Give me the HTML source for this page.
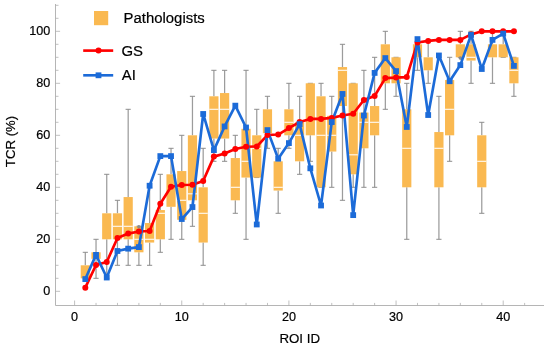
<!DOCTYPE html>
<html lang="en"><head><meta charset="utf-8"><title>TCR chart</title>
<style>html,body{margin:0;padding:0;background:#fff}svg{display:block}</style></head>
<body>
<svg width="550" height="350" viewBox="0 0 550 350">
<rect width="550" height="350" fill="#fff"/>
<g stroke="#9c9c9c" stroke-width="1.25" fill="none">
<path d="M85.31 265.30V252.30"/>
<path d="M96.03 252.30V239.30"/>
<path d="M96.03 258.80V278.30"/>
<path d="M106.74 213.30V174.30"/>
<path d="M106.74 239.30V278.30"/>
<path d="M117.46 213.30V200.30"/>
<path d="M117.46 239.30V265.30"/>
<path d="M128.18 197.05V109.30"/>
<path d="M128.18 239.30V265.30"/>
<path d="M138.89 252.30V265.30"/>
<path d="M149.60 223.05V187.30"/>
<path d="M149.60 242.55V265.30"/>
<path d="M160.32 210.05V174.30"/>
<path d="M160.32 239.30V252.30"/>
<path d="M171.03 174.30V148.30"/>
<path d="M171.03 206.80V239.30"/>
<path d="M181.75 171.05V135.30"/>
<path d="M181.75 219.80V239.30"/>
<path d="M192.46 135.30V96.30"/>
<path d="M192.46 200.30V226.30"/>
<path d="M203.18 187.30V148.30"/>
<path d="M203.18 242.55V265.30"/>
<path d="M213.89 96.30V70.30"/>
<path d="M213.89 138.55V161.30"/>
<path d="M224.61 93.05V70.30"/>
<path d="M224.61 138.55V161.30"/>
<path d="M235.32 158.05V135.30"/>
<path d="M235.32 200.30V213.30"/>
<path d="M246.04 128.80V70.30"/>
<path d="M246.04 177.55V239.30"/>
<path d="M256.75 135.30V109.30"/>
<path d="M267.47 109.30V96.30"/>
<path d="M267.47 133.22V148.30"/>
<path d="M278.19 161.30V148.30"/>
<path d="M278.19 190.55V213.30"/>
<path d="M288.90 109.30V83.30"/>
<path d="M288.90 135.30V148.30"/>
<path d="M299.62 122.30V96.30"/>
<path d="M299.62 161.30V174.30"/>
<path d="M310.33 135.30V161.30"/>
<path d="M321.04 96.30V83.30"/>
<path d="M331.76 115.80V96.30"/>
<path d="M331.76 151.55V187.30"/>
<path d="M342.48 67.05V44.30"/>
<path d="M342.48 106.05V200.30"/>
<path d="M353.19 174.30V187.30"/>
<path d="M363.90 112.55V70.30"/>
<path d="M363.90 148.30V187.30"/>
<path d="M374.62 106.05V57.30"/>
<path d="M374.62 135.30V187.30"/>
<path d="M385.34 44.30V31.30"/>
<path d="M385.34 83.30V109.30"/>
<path d="M396.05 83.30V96.30"/>
<path d="M406.76 109.30V83.30"/>
<path d="M406.76 187.30V239.30"/>
<path d="M417.48 57.30V70.30"/>
<path d="M428.19 57.30V40.92"/>
<path d="M428.19 70.30V83.30"/>
<path d="M438.91 132.05V96.30"/>
<path d="M438.91 187.30V239.30"/>
<path d="M449.62 80.05V57.30"/>
<path d="M449.62 135.30V161.30"/>
<path d="M460.34 44.30V31.30"/>
<path d="M471.05 44.30V31.30"/>
<path d="M471.05 60.55V83.30"/>
<path d="M481.77 135.30V122.30"/>
<path d="M481.77 187.30V213.30"/>
<path d="M492.49 44.30V31.30"/>
<path d="M492.49 57.30V83.30"/>
<path d="M503.20 44.30V31.30"/>
<path d="M513.91 83.30V96.30"/>
</g>
<g stroke="#8e8e8e" stroke-width="1" fill="none">
<path d="M82.72 252.30H87.91M82.72 278.30H87.91"/>
<path d="M93.43 239.30H98.63M93.43 278.30H98.63"/>
<path d="M104.14 174.30H109.34M104.14 278.30H109.34"/>
<path d="M114.86 200.30H120.06M114.86 265.30H120.06"/>
<path d="M125.58 109.30H130.78M125.58 265.30H130.78"/>
<path d="M136.29 226.30H141.49M136.29 265.30H141.49"/>
<path d="M147.00 187.30H152.20M147.00 265.30H152.20"/>
<path d="M157.72 174.30H162.92M157.72 252.30H162.92"/>
<path d="M168.44 148.30H173.63M168.44 239.30H173.63"/>
<path d="M179.15 135.30H184.35M179.15 239.30H184.35"/>
<path d="M189.86 96.30H195.06M189.86 226.30H195.06"/>
<path d="M200.58 148.30H205.78M200.58 265.30H205.78"/>
<path d="M211.29 70.30H216.49M211.29 161.30H216.49"/>
<path d="M222.01 70.30H227.21M222.01 161.30H227.21"/>
<path d="M232.72 135.30H237.92M232.72 213.30H237.92"/>
<path d="M243.44 70.30H248.64M243.44 239.30H248.64"/>
<path d="M254.16 109.30H259.36M254.16 177.55H259.36"/>
<path d="M264.87 96.30H270.07M264.87 148.30H270.07"/>
<path d="M275.58 148.30H280.79M275.58 213.30H280.79"/>
<path d="M286.30 83.30H291.50M286.30 148.30H291.50"/>
<path d="M297.01 96.30H302.22M297.01 174.30H302.22"/>
<path d="M307.73 83.30H312.93M307.73 161.30H312.93"/>
<path d="M318.44 83.30H323.64M318.44 187.30H323.64"/>
<path d="M329.16 96.30H334.36M329.16 187.30H334.36"/>
<path d="M339.88 44.30H345.08M339.88 200.30H345.08"/>
<path d="M350.59 83.30H355.79M350.59 187.30H355.79"/>
<path d="M361.30 70.30H366.50M361.30 187.30H366.50"/>
<path d="M372.02 57.30H377.22M372.02 187.30H377.22"/>
<path d="M382.74 31.30H387.94M382.74 109.30H387.94"/>
<path d="M393.45 57.30H398.65M393.45 96.30H398.65"/>
<path d="M404.16 83.30H409.37M404.16 239.30H409.37"/>
<path d="M414.88 44.30H420.08M414.88 70.30H420.08"/>
<path d="M425.59 40.92H430.79M425.59 83.30H430.79"/>
<path d="M436.31 96.30H441.51M436.31 239.30H441.51"/>
<path d="M447.02 57.30H452.23M447.02 161.30H452.23"/>
<path d="M457.74 31.30H462.94M457.74 57.30H462.94"/>
<path d="M468.45 31.30H473.65M468.45 83.30H473.65"/>
<path d="M479.17 122.30H484.37M479.17 213.30H484.37"/>
<path d="M489.88 31.30H495.09M489.88 83.30H495.09"/>
<path d="M500.60 31.30H505.80M500.60 57.30H505.80"/>
<path d="M511.31 57.30H516.51M511.31 96.30H516.51"/>
</g>
<g fill="#FAB951">
<rect x="80.72" y="265.30" width="9.2" height="13.00"/>
<rect x="91.43" y="252.30" width="9.2" height="6.50"/>
<rect x="102.14" y="213.30" width="9.2" height="26.00"/>
<rect x="112.86" y="213.30" width="9.2" height="26.00"/>
<rect x="123.58" y="197.05" width="9.2" height="42.25"/>
<rect x="134.29" y="226.30" width="9.2" height="26.00"/>
<rect x="145.00" y="223.05" width="9.2" height="19.50"/>
<rect x="155.72" y="210.05" width="9.2" height="29.25"/>
<rect x="166.44" y="174.30" width="9.2" height="32.50"/>
<rect x="177.15" y="171.05" width="9.2" height="48.75"/>
<rect x="187.86" y="135.30" width="9.2" height="65.00"/>
<rect x="198.58" y="187.30" width="9.2" height="55.25"/>
<rect x="209.29" y="96.30" width="9.2" height="42.25"/>
<rect x="220.01" y="93.05" width="9.2" height="45.50"/>
<rect x="230.72" y="158.05" width="9.2" height="42.25"/>
<rect x="241.44" y="128.80" width="9.2" height="48.75"/>
<rect x="252.16" y="135.30" width="9.2" height="42.25"/>
<rect x="262.87" y="109.30" width="9.2" height="23.92"/>
<rect x="273.58" y="161.30" width="9.2" height="29.25"/>
<rect x="284.30" y="109.30" width="9.2" height="26.00"/>
<rect x="295.01" y="122.30" width="9.2" height="39.00"/>
<rect x="305.73" y="83.30" width="9.2" height="52.00"/>
<rect x="316.44" y="96.30" width="9.2" height="91.00"/>
<rect x="327.16" y="115.80" width="9.2" height="35.75"/>
<rect x="337.88" y="67.05" width="9.2" height="39.00"/>
<rect x="348.59" y="83.30" width="9.2" height="91.00"/>
<rect x="359.30" y="112.55" width="9.2" height="35.75"/>
<rect x="370.02" y="106.05" width="9.2" height="29.25"/>
<rect x="380.74" y="44.30" width="9.2" height="39.00"/>
<rect x="391.45" y="57.30" width="9.2" height="26.00"/>
<rect x="402.16" y="109.30" width="9.2" height="78.00"/>
<rect x="412.88" y="44.30" width="9.2" height="13.00"/>
<rect x="423.59" y="57.30" width="9.2" height="13.00"/>
<rect x="434.31" y="132.05" width="9.2" height="55.25"/>
<rect x="445.02" y="80.05" width="9.2" height="55.25"/>
<rect x="455.74" y="44.30" width="9.2" height="13.00"/>
<rect x="466.45" y="44.30" width="9.2" height="16.25"/>
<rect x="477.17" y="135.30" width="9.2" height="52.00"/>
<rect x="487.88" y="44.30" width="9.2" height="13.00"/>
<rect x="498.60" y="44.30" width="9.2" height="13.00"/>
<rect x="509.31" y="57.30" width="9.2" height="26.00"/>
</g>
<g stroke="#fff" stroke-width="1.1" opacity="0.95">
<path d="M112.86 226.30H122.06"/>
<path d="M123.58 226.30H132.78"/>
<path d="M134.29 239.30H143.49"/>
<path d="M145.00 239.30H154.20"/>
<path d="M155.72 213.30H164.92"/>
<path d="M177.15 200.30H186.35"/>
<path d="M187.86 193.80H197.06"/>
<path d="M198.58 213.30H207.78"/>
<path d="M209.29 109.30H218.49"/>
<path d="M220.01 109.30H229.21"/>
<path d="M230.72 187.30H239.92"/>
<path d="M241.44 161.30H250.64"/>
<path d="M252.16 148.30H261.36"/>
<path d="M273.58 187.30H282.79"/>
<path d="M284.30 122.30H293.50"/>
<path d="M295.01 135.30H304.22"/>
<path d="M316.44 135.30H325.64"/>
<path d="M327.16 135.30H336.36"/>
<path d="M337.88 70.30H347.08"/>
<path d="M348.59 154.80H357.79"/>
<path d="M359.30 122.30H368.50"/>
<path d="M370.02 122.30H379.22"/>
<path d="M402.16 148.30H411.37"/>
<path d="M434.31 148.30H443.51"/>
<path d="M445.02 109.30H454.23"/>
<path d="M466.45 57.30H475.65"/>
<path d="M477.17 161.30H486.37"/>
<path d="M509.31 70.30H518.51"/>
</g>
<g fill="#8c8c8c">
<circle cx="138.89" cy="226.82" r="1.8"/>
<circle cx="460.34" cy="58.08" r="1.8"/>
</g>
<polyline points="85.31,287.66 96.03,265.04 106.74,261.92 117.46,238.00 128.18,233.58 138.89,231.50 149.60,230.98 160.32,203.68 171.03,186.78 181.75,184.96 192.46,184.70 203.18,181.06 213.89,156.62 224.61,153.50 235.32,149.08 246.04,146.74 256.75,146.48 267.47,135.04 278.19,134.52 288.90,128.02 299.62,122.04 310.33,118.92 321.04,118.92 331.76,117.88 342.48,115.54 353.19,113.72 363.90,99.94 374.62,96.04 385.34,78.10 396.05,77.58 406.76,77.06 417.48,42.48 428.19,40.92 438.91,39.88 449.62,39.88 460.34,39.88 471.05,34.42 481.77,31.30 492.49,31.30 503.20,31.30 513.91,31.30" fill="none" stroke="#ff0000" stroke-width="2.65" stroke-linejoin="round"/>
<polyline points="85.31,279.08 96.03,254.90 106.74,277.52 117.46,251.00 128.18,248.66 138.89,247.10 149.60,185.74 160.32,156.10 171.03,156.10 181.75,219.02 192.46,207.06 203.18,113.98 213.89,150.12 224.61,126.46 235.32,105.66 246.04,127.50 256.75,224.48 267.47,130.10 278.19,158.70 288.90,143.10 299.62,124.12 310.33,168.32 321.04,205.50 331.76,122.04 342.48,93.96 353.19,215.12 363.90,115.54 374.62,72.90 385.34,58.08 396.05,71.08 406.76,126.98 417.48,39.10 428.19,115.02 438.91,55.48 449.62,81.22 460.34,65.10 471.05,34.94 481.77,69.00 492.49,39.88 503.20,33.64 513.91,65.88" fill="none" stroke="#1c6bd8" stroke-width="2.65" stroke-linejoin="round"/>
<g fill="#ff0000">
<circle cx="85.31" cy="287.66" r="3.0"/>
<circle cx="96.03" cy="265.04" r="3.0"/>
<circle cx="106.74" cy="261.92" r="3.0"/>
<circle cx="117.46" cy="238.00" r="3.0"/>
<circle cx="128.18" cy="233.58" r="3.0"/>
<circle cx="138.89" cy="231.50" r="3.0"/>
<circle cx="149.60" cy="230.98" r="3.0"/>
<circle cx="160.32" cy="203.68" r="3.0"/>
<circle cx="171.03" cy="186.78" r="3.0"/>
<circle cx="181.75" cy="184.96" r="3.0"/>
<circle cx="192.46" cy="184.70" r="3.0"/>
<circle cx="203.18" cy="181.06" r="3.0"/>
<circle cx="213.89" cy="156.62" r="3.0"/>
<circle cx="224.61" cy="153.50" r="3.0"/>
<circle cx="235.32" cy="149.08" r="3.0"/>
<circle cx="246.04" cy="146.74" r="3.0"/>
<circle cx="256.75" cy="146.48" r="3.0"/>
<circle cx="267.47" cy="135.04" r="3.0"/>
<circle cx="278.19" cy="134.52" r="3.0"/>
<circle cx="288.90" cy="128.02" r="3.0"/>
<circle cx="299.62" cy="122.04" r="3.0"/>
<circle cx="310.33" cy="118.92" r="3.0"/>
<circle cx="321.04" cy="118.92" r="3.0"/>
<circle cx="331.76" cy="117.88" r="3.0"/>
<circle cx="342.48" cy="115.54" r="3.0"/>
<circle cx="353.19" cy="113.72" r="3.0"/>
<circle cx="363.90" cy="99.94" r="3.0"/>
<circle cx="374.62" cy="96.04" r="3.0"/>
<circle cx="385.34" cy="78.10" r="3.0"/>
<circle cx="396.05" cy="77.58" r="3.0"/>
<circle cx="406.76" cy="77.06" r="3.0"/>
<circle cx="417.48" cy="42.48" r="3.0"/>
<circle cx="428.19" cy="40.92" r="3.0"/>
<circle cx="438.91" cy="39.88" r="3.0"/>
<circle cx="449.62" cy="39.88" r="3.0"/>
<circle cx="460.34" cy="39.88" r="3.0"/>
<circle cx="471.05" cy="34.42" r="3.0"/>
<circle cx="481.77" cy="31.30" r="3.0"/>
<circle cx="492.49" cy="31.30" r="3.0"/>
<circle cx="503.20" cy="31.30" r="3.0"/>
<circle cx="513.91" cy="31.30" r="3.0"/>
</g>
<g fill="#1c6bd8">
<rect x="82.41" y="276.18" width="5.8" height="5.8"/>
<rect x="93.13" y="252.00" width="5.8" height="5.8"/>
<rect x="103.84" y="274.62" width="5.8" height="5.8"/>
<rect x="114.56" y="248.10" width="5.8" height="5.8"/>
<rect x="125.28" y="245.76" width="5.8" height="5.8"/>
<rect x="135.99" y="244.20" width="5.8" height="5.8"/>
<rect x="146.70" y="182.84" width="5.8" height="5.8"/>
<rect x="157.42" y="153.20" width="5.8" height="5.8"/>
<rect x="168.13" y="153.20" width="5.8" height="5.8"/>
<rect x="178.85" y="216.12" width="5.8" height="5.8"/>
<rect x="189.56" y="204.16" width="5.8" height="5.8"/>
<rect x="200.28" y="111.08" width="5.8" height="5.8"/>
<rect x="210.99" y="147.22" width="5.8" height="5.8"/>
<rect x="221.71" y="123.56" width="5.8" height="5.8"/>
<rect x="232.42" y="102.76" width="5.8" height="5.8"/>
<rect x="243.14" y="124.60" width="5.8" height="5.8"/>
<rect x="253.85" y="221.58" width="5.8" height="5.8"/>
<rect x="264.57" y="127.20" width="5.8" height="5.8"/>
<rect x="275.29" y="155.80" width="5.8" height="5.8"/>
<rect x="286.00" y="140.20" width="5.8" height="5.8"/>
<rect x="296.72" y="121.22" width="5.8" height="5.8"/>
<rect x="307.43" y="165.42" width="5.8" height="5.8"/>
<rect x="318.14" y="202.60" width="5.8" height="5.8"/>
<rect x="328.86" y="119.14" width="5.8" height="5.8"/>
<rect x="339.58" y="91.06" width="5.8" height="5.8"/>
<rect x="350.29" y="212.22" width="5.8" height="5.8"/>
<rect x="361.00" y="112.64" width="5.8" height="5.8"/>
<rect x="371.72" y="70.00" width="5.8" height="5.8"/>
<rect x="382.44" y="55.18" width="5.8" height="5.8"/>
<rect x="393.15" y="68.18" width="5.8" height="5.8"/>
<rect x="403.87" y="124.08" width="5.8" height="5.8"/>
<rect x="414.58" y="36.20" width="5.8" height="5.8"/>
<rect x="425.29" y="112.12" width="5.8" height="5.8"/>
<rect x="436.01" y="52.58" width="5.8" height="5.8"/>
<rect x="446.73" y="78.32" width="5.8" height="5.8"/>
<rect x="457.44" y="62.20" width="5.8" height="5.8"/>
<rect x="468.15" y="32.04" width="5.8" height="5.8"/>
<rect x="478.87" y="66.10" width="5.8" height="5.8"/>
<rect x="489.59" y="36.98" width="5.8" height="5.8"/>
<rect x="500.30" y="30.74" width="5.8" height="5.8"/>
<rect x="511.01" y="62.98" width="5.8" height="5.8"/>
</g>
<path d="M55.5 4V305.5H544" stroke="#a8a8a8" stroke-width="0.85" fill="none"/>
<g stroke="#ababab" stroke-width="0.75" fill="none">
<path d="M55.5 291.30h4.6"/>
<path d="M55.5 278.30h3"/>
<path d="M55.5 265.30h3"/>
<path d="M55.5 252.30h3"/>
<path d="M55.5 239.30h4.6"/>
<path d="M55.5 226.30h3"/>
<path d="M55.5 213.30h3"/>
<path d="M55.5 200.30h3"/>
<path d="M55.5 187.30h4.6"/>
<path d="M55.5 174.30h3"/>
<path d="M55.5 161.30h3"/>
<path d="M55.5 148.30h3"/>
<path d="M55.5 135.30h4.6"/>
<path d="M55.5 122.30h3"/>
<path d="M55.5 109.30h3"/>
<path d="M55.5 96.30h3"/>
<path d="M55.5 83.30h4.6"/>
<path d="M55.5 70.30h3"/>
<path d="M55.5 57.30h3"/>
<path d="M55.5 44.30h3"/>
<path d="M55.5 31.30h4.6"/>
<path d="M55.5 18.30h3"/>
<path d="M55.5 5.30h3"/>
<path d="M74.60 305.5v-5"/>
<path d="M96.03 305.5v-2.6"/>
<path d="M117.46 305.5v-2.6"/>
<path d="M138.89 305.5v-2.6"/>
<path d="M160.32 305.5v-2.6"/>
<path d="M181.75 305.5v-5"/>
<path d="M203.18 305.5v-2.6"/>
<path d="M224.61 305.5v-2.6"/>
<path d="M246.04 305.5v-2.6"/>
<path d="M267.47 305.5v-2.6"/>
<path d="M288.90 305.5v-5"/>
<path d="M310.33 305.5v-2.6"/>
<path d="M331.76 305.5v-2.6"/>
<path d="M353.19 305.5v-2.6"/>
<path d="M374.62 305.5v-2.6"/>
<path d="M396.05 305.5v-5"/>
<path d="M417.48 305.5v-2.6"/>
<path d="M438.91 305.5v-2.6"/>
<path d="M460.34 305.5v-2.6"/>
<path d="M481.77 305.5v-2.6"/>
<path d="M503.20 305.5v-5"/>
<path d="M524.63 305.5v-2.6"/>
</g>
<g font-family="Liberation Sans, Arial, sans-serif" stroke="#000" stroke-width="0.2" stroke-linejoin="round" font-size="12.6" fill="#000">
<text x="50.2" y="295.40" text-anchor="end">0</text>
<text x="50.2" y="243.40" text-anchor="end">20</text>
<text x="50.2" y="191.40" text-anchor="end">40</text>
<text x="50.2" y="139.40" text-anchor="end">60</text>
<text x="50.2" y="87.40" text-anchor="end">80</text>
<text x="50.2" y="35.40" text-anchor="end">100</text>
<text x="74.60" y="321.2" text-anchor="middle">0</text>
<text x="181.75" y="321.2" text-anchor="middle">10</text>
<text x="288.90" y="321.2" text-anchor="middle">20</text>
<text x="396.05" y="321.2" text-anchor="middle">30</text>
<text x="503.20" y="321.2" text-anchor="middle">40</text>
</g>
<text font-family="Liberation Sans, Arial, sans-serif" stroke="#000" stroke-width="0.2" stroke-linejoin="round" font-size="13.3" x="299.7" y="343.2" text-anchor="middle">ROI ID</text>
<text font-family="Liberation Sans, Arial, sans-serif" stroke="#000" stroke-width="0.2" stroke-linejoin="round" font-size="13.2" transform="translate(15.4 141.5) rotate(-90)" text-anchor="middle">TCR (%)</text>
<rect x="94" y="11" width="14.2" height="14.2" fill="#FAB951"/>
<text font-family="Liberation Sans, Arial, sans-serif" stroke="#000" stroke-width="0.2" stroke-linejoin="round" font-size="14.9" x="123.6" y="22.9">Pathologists</text>
<path d="M83.2 50.6H113.2" stroke="#ff0000" stroke-width="2.65"/><circle cx="98.5" cy="50.6" r="3.0" fill="#ff0000"/>
<text font-family="Liberation Sans, Arial, sans-serif" stroke="#000" stroke-width="0.2" stroke-linejoin="round" font-size="14.9" x="121.4" y="55.8">GS</text>
<path d="M83.2 75.3H113.2" stroke="#1c6bd8" stroke-width="2.65"/><rect x="95.6" y="72.4" width="5.8" height="5.8" fill="#1c6bd8"/>
<text font-family="Liberation Sans, Arial, sans-serif" stroke="#000" stroke-width="0.2" stroke-linejoin="round" font-size="14.9" x="121.8" y="80.0">AI</text>
</svg>
</body></html>
